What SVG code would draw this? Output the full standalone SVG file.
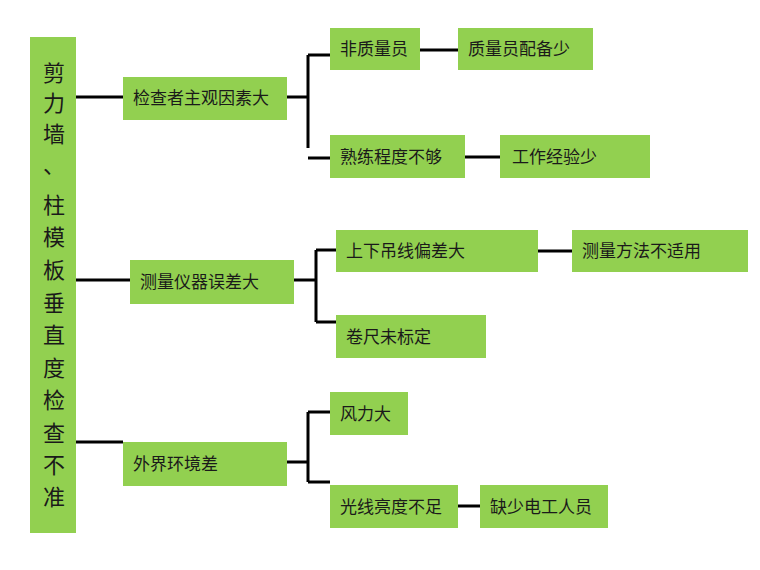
<svg xmlns="http://www.w3.org/2000/svg" width="760" height="570" viewBox="0 0 760 570">
<style>
.b{fill:#92d050}
.t{font-family:"Noto Sans CJK SC",sans-serif;font-size:17px;fill:#1a1a1a}
.v{font-family:"Noto Sans CJK SC",sans-serif;font-size:22px;fill:#1a1a1a;text-anchor:middle}
.c{fill:none;stroke:#000;stroke-width:3}
</style>
<rect width="760" height="570" fill="#fff"/>
<g id="connectors">
<path class="c" d="M76 97H123M287 97H308M308 55V148M308 55H330M308 158H330M420 50H458M465 157H500"/>
<path class="c" d="M76 280H130M294 280H316M316 250V322M316 250H336M316 322H336M538 251H572"/>
<path class="c" d="M76 442H123M287 462H308M308 412V482M308 412H330M308 482H330M458 506H480"/>
</g>
<g id="root"><rect class="b" x="30" y="37" width="46" height="496"/>
<text class="v" x="54" y="81">剪</text><text class="v" x="54" y="111">力</text><text class="v" x="54" y="142">墙</text><text class="v" x="54" y="173">、</text><text class="v" x="54" y="213">柱</text><text class="v" x="54" y="245">模</text><text class="v" x="54" y="278">板</text><text class="v" x="54" y="311">垂</text><text class="v" x="54" y="343">直</text><text class="v" x="54" y="376">度</text><text class="v" x="54" y="408">检</text><text class="v" x="54" y="441">查</text><text class="v" x="54" y="473">不</text><text class="v" x="54" y="505">准</text></g>
<g id="n1"><rect class="b" x="123" y="77" width="164" height="43"/><text class="t" x="133" y="104">检查者主观因素大</text></g>
<g id="n2"><rect class="b" x="130" y="260" width="164" height="44"/><text class="t" x="140" y="288">测量仪器误差大</text></g>
<g id="n3"><rect class="b" x="123" y="442" width="164" height="44"/><text class="t" x="133" y="470">外界环境差</text></g>
<g id="n11"><rect class="b" x="330" y="28" width="90" height="42"/><text class="t" x="340" y="55">非质量员</text></g>
<g id="n111"><rect class="b" x="458" y="28" width="135" height="42"/><text class="t" x="468" y="55">质量员配备少</text></g>
<g id="n12"><rect class="b" x="330" y="135" width="135" height="43"/><text class="t" x="340" y="163">熟练程度不够</text></g>
<g id="n121"><rect class="b" x="500" y="135" width="150" height="43"/><text class="t" x="512" y="163">工作经验少</text></g>
<g id="n21"><rect class="b" x="336" y="230" width="202" height="42"/><text class="t" x="346" y="257">上下吊线偏差大</text></g>
<g id="n211"><rect class="b" x="572" y="230" width="176" height="42"/><text class="t" x="582" y="257">测量方法不适用</text></g>
<g id="n22"><rect class="b" x="336" y="315" width="150" height="43"/><text class="t" x="346" y="343">卷尺未标定</text></g>
<g id="n31"><rect class="b" x="330" y="392" width="78" height="43"/><text class="t" x="340" y="420">风力大</text></g>
<g id="n32"><rect class="b" x="330" y="485" width="128" height="43"/><text class="t" x="340" y="513">光线亮度不足</text></g>
<g id="n321"><rect class="b" x="480" y="485" width="128" height="43"/><text class="t" x="490" y="513">缺少电工人员</text></g>
</svg>
